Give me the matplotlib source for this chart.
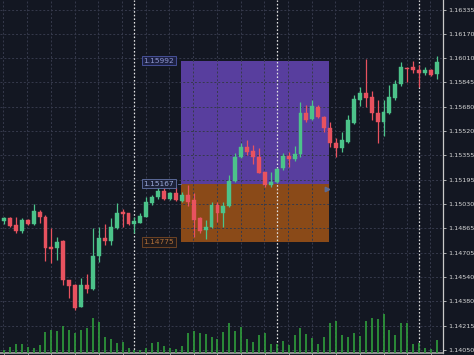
import matplotlib
matplotlib.use("Agg")
import matplotlib.pyplot as plt
from matplotlib.patches import Rectangle
import numpy as np

# ---------------- data ----------------
opens = [1.14916, 1.14936, 1.14891, 1.14849, 1.14923, 1.14896, 1.14977, 1.14945, 1.14744, 1.14733,
         1.14782, 1.14520, 1.14487, 1.14341, 1.14487, 1.14458, 1.14681, 1.14800, 1.14784, 1.14867,
         1.14979, 1.14968, 1.14894, 1.14905, 1.14945, 1.15037, 1.15075, 1.15119, 1.15064, 1.15102,
         1.15052, 1.15091, 1.15057, 1.14934, 1.14856, 1.14878, 1.15023, 1.14972, 1.15019, 1.15187,
         1.15344, 1.15411, 1.15388, 1.15348, 1.15243, 1.15158, 1.15180, 1.15270, 1.15354, 1.15330,
         1.15364, 1.15639, 1.15601, 1.15683, 1.15616, 1.15538, 1.15442, 1.15404, 1.15448, 1.15572,
         1.15728, 1.15773, 1.15746, 1.15643, 1.15582, 1.15639, 1.15739, 1.15833, 1.15945, 1.15951,
         1.15929, 1.15911, 1.15929, 1.15903]
highs = [1.14945, 1.14945, 1.14945, 1.14934, 1.14930, 1.15028, 1.14990, 1.14953, 1.14867, 1.14807,
         1.14789, 1.14523, 1.14490, 1.14532, 1.14561, 1.14867, 1.14878, 1.14894, 1.14934, 1.15035,
         1.14995, 1.14972, 1.14945, 1.14970, 1.15079, 1.15091, 1.15138, 1.15138, 1.15111, 1.15146,
         1.15111, 1.15158, 1.15104, 1.14945, 1.14923, 1.15042, 1.15046, 1.15046, 1.15225, 1.15370,
         1.15438, 1.15460, 1.15426, 1.15404, 1.15247, 1.15247, 1.15270, 1.15370, 1.15381, 1.15419,
         1.15717, 1.15695, 1.15728, 1.15695, 1.15621, 1.15582, 1.15473, 1.15515, 1.15627, 1.15762,
         1.15813, 1.16001, 1.15790, 1.15728, 1.15728, 1.15829, 1.15862, 1.15981, 1.15949, 1.15990,
         1.15963, 1.15949, 1.15934, 1.16025]
lows = [1.14896, 1.14874, 1.14834, 1.14838, 1.14889, 1.14889, 1.14903, 1.14648, 1.14632, 1.14654,
        1.14487, 1.14397, 1.14319, 1.14336, 1.14431, 1.14453, 1.14643, 1.14755, 1.14755, 1.14860,
        1.14878, 1.14889, 1.14834, 1.14903, 1.14943, 1.15023, 1.15064, 1.15057, 1.15057, 1.15050,
        1.15046, 1.15017, 1.14811, 1.14834, 1.14793, 1.14867, 1.14911, 1.14878, 1.15012, 1.15180,
        1.15337, 1.15359, 1.15299, 1.15236, 1.15142, 1.15146, 1.15169, 1.15258, 1.15280, 1.15321,
        1.15348, 1.15582, 1.15594, 1.15605, 1.15515, 1.15415, 1.15348, 1.15381, 1.15438, 1.15567,
        1.15688, 1.15683, 1.15594, 1.15442, 1.15486, 1.15637, 1.15728, 1.15822, 1.15851, 1.15907,
        1.15813, 1.15896, 1.15889, 1.15871]
closes = [1.14938, 1.14883, 1.14849, 1.14921, 1.14896, 1.14981, 1.14945, 1.14737, 1.14730, 1.14777,
          1.14520, 1.14482, 1.14334, 1.14487, 1.14458, 1.14681, 1.14800, 1.14784, 1.14874, 1.14972,
          1.14961, 1.14894, 1.14916, 1.14952, 1.15042, 1.15079, 1.15119, 1.15064, 1.15102, 1.15057,
          1.15091, 1.15046, 1.14923, 1.14851, 1.14878, 1.15023, 1.14972, 1.15019, 1.15187, 1.15344,
          1.15411, 1.15377, 1.15344, 1.15240, 1.15158, 1.15180, 1.15263, 1.15354, 1.15332, 1.15364,
          1.15639, 1.15594, 1.15688, 1.15616, 1.15542, 1.15438, 1.15404, 1.15460, 1.15594, 1.15733,
          1.15773, 1.15739, 1.15639, 1.15582, 1.15650, 1.15746, 1.15835, 1.15947, 1.15934, 1.15929,
          1.15907, 1.15929, 1.15896, 1.15985]
volumes = [3, 6, 9, 9, 6, 5, 8, 21, 23, 22,
           27, 23, 20, 23, 25, 35, 31, 16, 14, 10,
           11, 5, 3, 3, 5, 10, 11, 7, 5, 4,
           7, 20, 22, 20, 19, 16, 14, 21, 30, 22,
           26, 14, 11, 18, 20, 9, 9, 12, 8, 18,
           25, 19, 15, 9, 16, 30, 32, 18, 16, 20,
           17, 32, 35, 34, 39, 23, 18, 30, 30, 9,
           10, 5, 4, 13]

price_ticks = ["1.14050", "1.14215", "1.14380", "1.14540", "1.14705", "1.14865", "1.15030",
               "1.15195", "1.15355", "1.15520", "1.15680", "1.15845", "1.16010", "1.16170", "1.16335"]

# position tool (risk/reward box)
box_start, box_end = 29.85, 54.85
level_target = 1.15992
level_entry = 1.15167
level_stop = 1.14775
level_labels = ["1.15992", "1.15167", "1.14775"]
separators = [22, 46, 70]

# ---------------- style ----------------
BG = "#131722"
GREEN = "#4cc38a"
RED = "#e8525f"
VOL = "#2f9e3c"
GRID = "#363a4c"
AXC = "#c8c8c8"

fig = plt.figure(figsize=(4.74, 3.55), dpi=100, facecolor=BG)
ax = fig.add_axes([0.0, 2 / 355, 443 / 474, 353 / 355])
ax.set_facecolor(BG)
n = len(opens)
x = np.arange(n)

ax.set_xlim(-0.67, 74.03)
ax.set_ylim(1.14030, 1.16399)

# grid
yt = np.linspace(1.14050, 1.16335, len(price_ticks))
for v in yt:
    ax.axhline(v, color=GRID, lw=0.7, ls=(0, (2, 2)), zorder=1.5)
for v in range(0, n + 1, 4):
    ax.axvline(v - 0.1, color=GRID, lw=0.7, ls=(0, (2, 2)), zorder=1.5)

# position boxes
ax.add_patch(Rectangle((box_start, level_entry), box_end - box_start, level_target - level_entry,
                       facecolor="#583e9e", edgecolor="none", zorder=1))
ax.add_patch(Rectangle((box_start, level_stop), box_end - box_start, level_entry - level_stop,
                       facecolor="#8a4a18", edgecolor="none", zorder=1))

# separators
for s in separators:
    ax.axvline(s, color="#e6e6e6", lw=0.9, ls=(0, (1.3, 1.6)), zorder=2)

# volume
vax = ax.twinx()
vax.set_position(ax.get_position())
vax.set_ylim(0, 353)
vax.vlines(x, 0, volumes, color=VOL, lw=1.2, zorder=2)
vax.axis("off")

# candles
for i in range(n):
    o, h, l, c = opens[i], highs[i], lows[i], closes[i]
    col = GREEN if c >= o else RED
    ax.vlines(i, l, h, color=col, lw=0.9, zorder=3)
    bot = min(o, c)
    hgt = max(abs(c - o), 0.00005)
    ax.add_patch(Rectangle((i - 0.33, bot), 0.66, hgt, facecolor=col, edgecolor=col, lw=0.3, zorder=4))

# level labels
lab_x = 23.55
styles = [("#8e97d0", "#1d2142", "#4d58a8"),
          ("#9aa8d8", "#1d2238", "#6474a8"),
          ("#b0703a", "#1f1a1c", "#7a4a24")]
for lvl, txt, (fc, bc, ec) in zip([level_target, level_entry, level_stop], level_labels, styles):
    ax.text(lab_x, lvl, txt, color=fc, fontsize=5.3, ha="left", va="center", zorder=6,
            bbox=dict(boxstyle="square,pad=0.25", facecolor=bc, edgecolor=ec, lw=0.6))
ax.plot([29.4, box_start], [level_entry, level_entry], color="#6474a8", lw=0.6, zorder=5)
ax.plot([54.45], [1.15131], marker=">", color="#5b6b95", markersize=3.2, zorder=6)

# axes styling
for sp in ["left", "top"]:
    ax.spines[sp].set_visible(False)
ax.spines["right"].set_color(AXC)
ax.spines["right"].set_linewidth(0.9)
ax.spines["bottom"].set_color("#a8a8a8")
ax.spines["bottom"].set_linewidth(1.2)
ax.yaxis.tick_right()
ax.set_yticks(yt)
ax.set_yticklabels(price_ticks)
ax.tick_params(axis="y", colors=AXC, labelsize=4.6, length=2.5, width=0.6, pad=1.2, labelcolor="#d8d8d8")
ax.set_xticks(list(range(0, n + 1, 4)))
ax.set_xticklabels([])
ax.tick_params(axis="x", colors="#a8a8a8", length=2, width=0.6)

fig.savefig("out.png", dpi=100, facecolor=BG)
